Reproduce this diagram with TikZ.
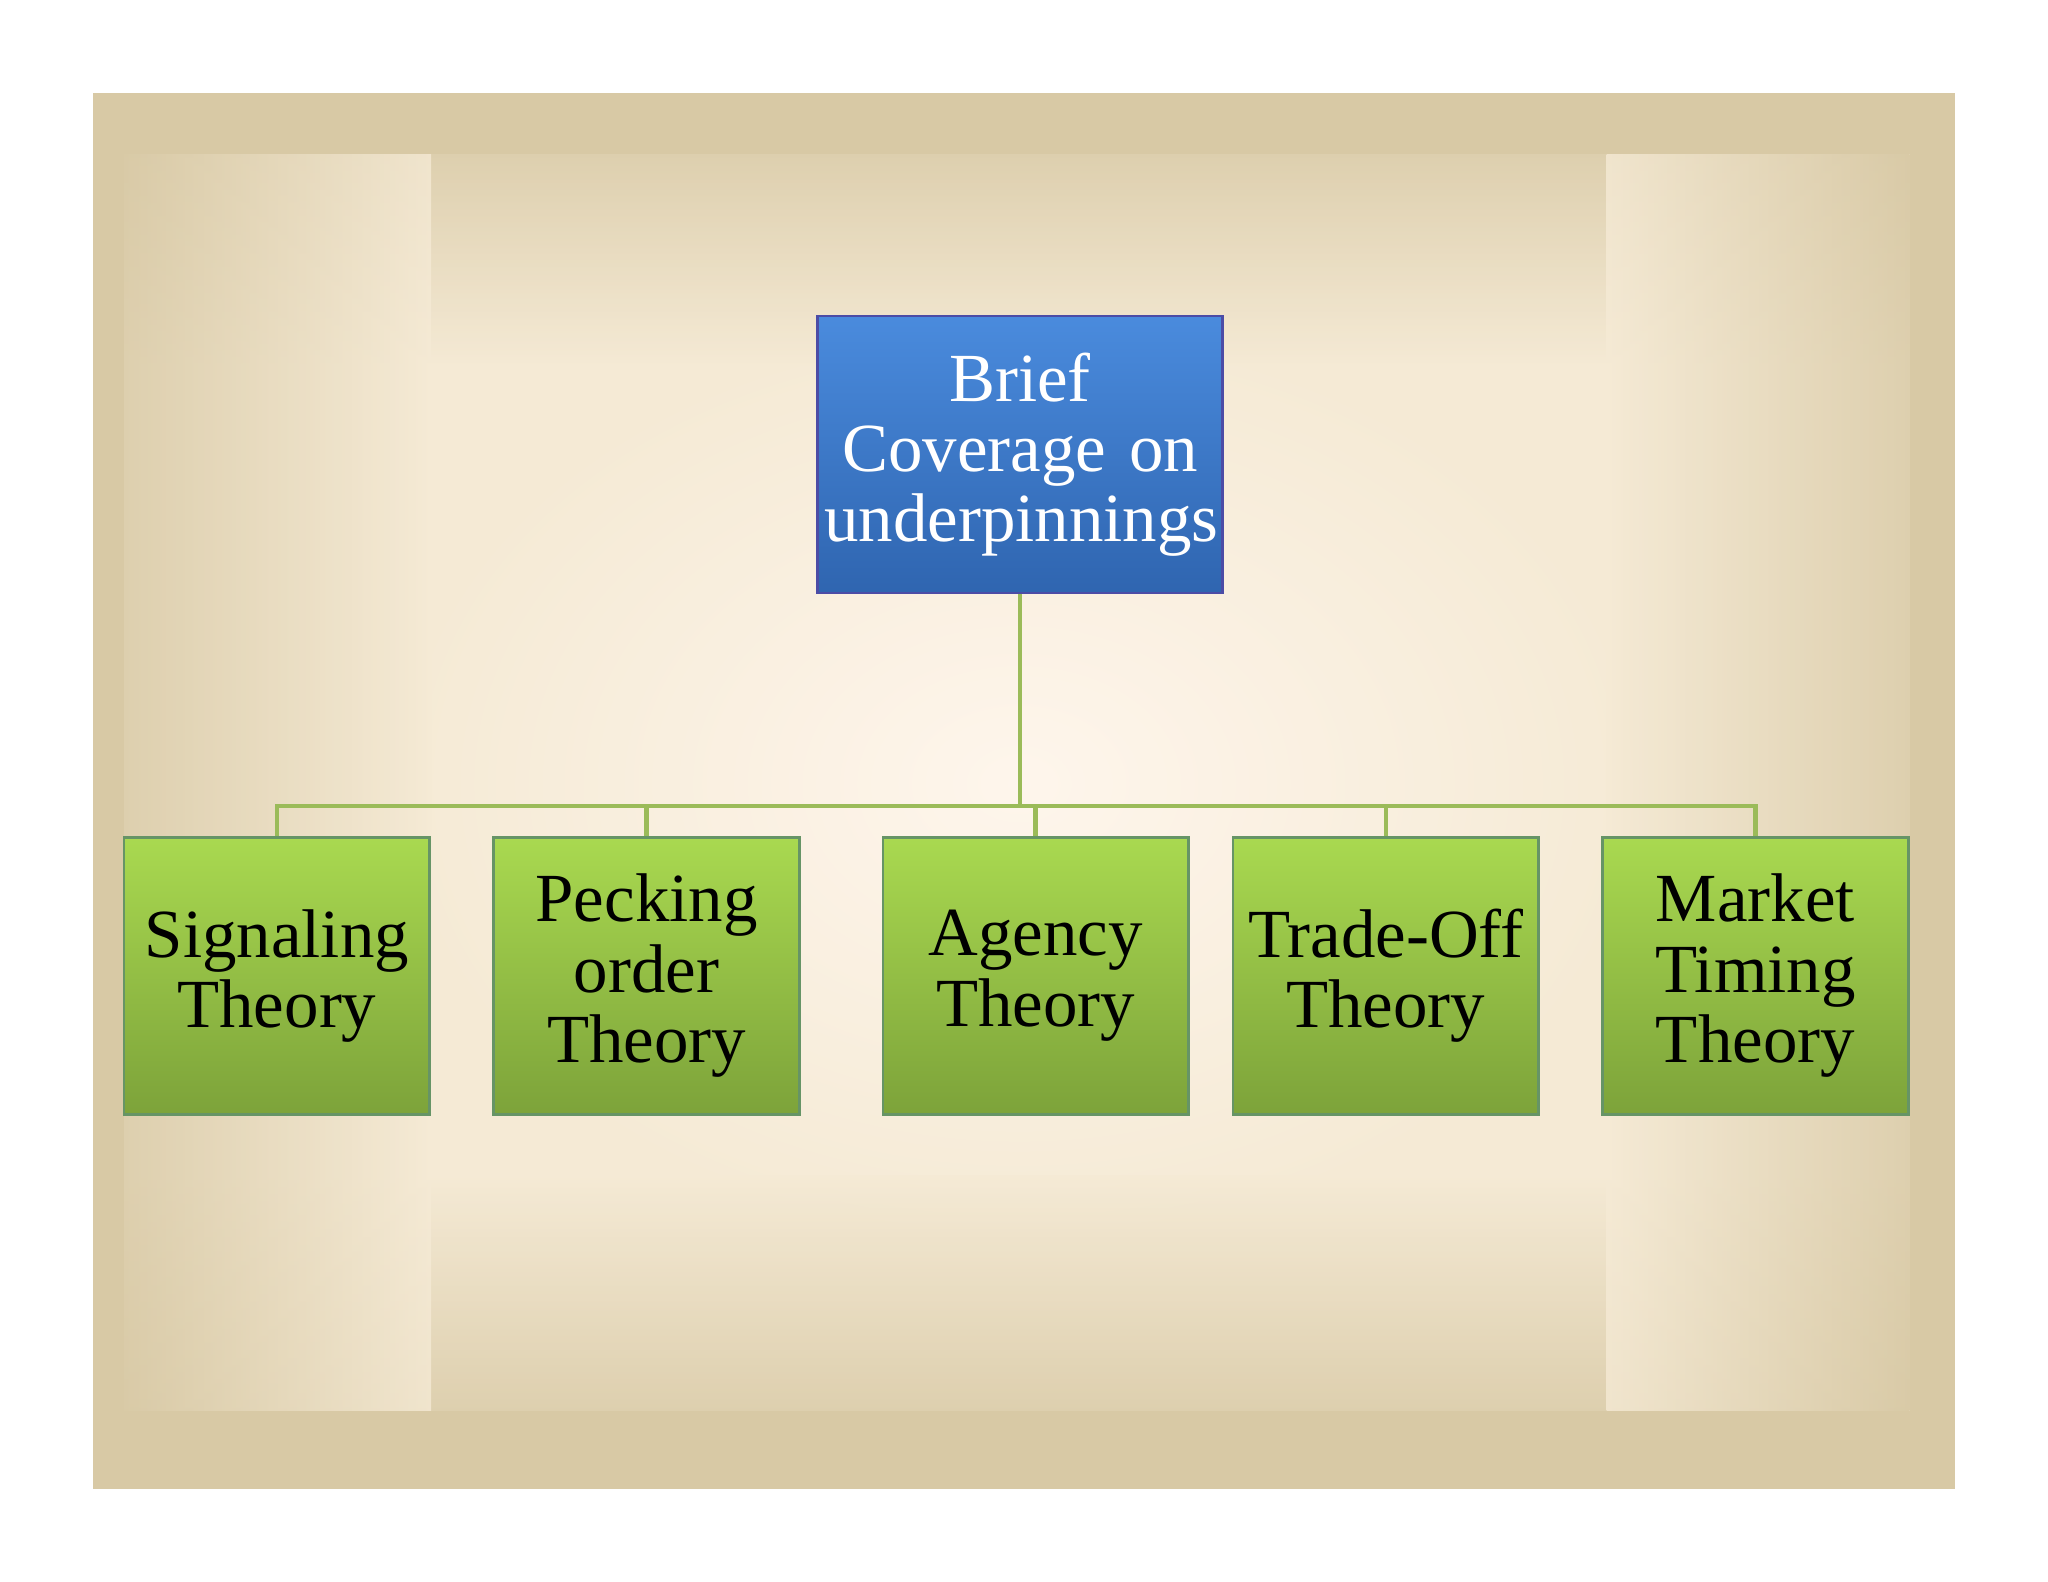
\documentclass[tikz,border=0pt]{standalone}
\usepackage{fontspec}
\setmainfont{Liberation Serif}
\begin{document}
\begin{tikzpicture}[x=0.01cm,y=-0.01cm,
  topbox/.style={draw=blue!50!black!70,line width=0.6pt,minimum width=310*0.01cm,minimum height=212*0.01cm,text width=300*0.01cm,inner sep=0pt,text=white,align=center,font=\fontsize{15}{15.3}\selectfont},
  leaf/.style={draw=green!30!black!60,line width=0.6pt,top color=leaftop,bottom color=leafbot,minimum width=234*0.01cm,minimum height=212*0.01cm,inner sep=0pt,text=black,align=center,font=\fontsize{15}{15.3}\selectfont},
  conn/.style={draw=conncol,line width=1pt}]
\definecolor{bgtan}{HTML}{D8C9A5}
\definecolor{bgcream}{HTML}{F5EAD5}
\definecolor{leaftop}{HTML}{A9D950}
\definecolor{leafbot}{HTML}{7DA33A}
\definecolor{conncol}{HTML}{9BBB59}
\definecolor{bluetop}{HTML}{4A8BDD}
\definecolor{bluebot}{HTML}{2F65B0}
\useasboundingbox (0,0) rectangle (1568,1211);
\fill[white] (0,0) rectangle (1568,1211);
\fill[bgtan] (71,71) rectangle (1497,1140);
\fill[bgcream] (95,118) rectangle (1462,1080);
\shade[inner color=bgcream!60!orange!15!white,outer color=bgcream] (300,250) rectangle (1260,950);
\shade[top color=bgtan,bottom color=bgcream,opacity=0.8] (95,118) rectangle (1462,280);
\shade[bottom color=bgtan,top color=bgcream,opacity=0.8] (95,900) rectangle (1462,1080);
\shade[left color=bgtan,right color=bgcream,opacity=0.8] (95,118) rectangle (330,1080);
\shade[right color=bgtan,left color=bgcream,opacity=0.8] (1230,118) rectangle (1462,1080);
\node[topbox,top color=bluetop,bottom color=bluebot] (top) at (781,348) {Brief\\Coverage on\\underpinnings};
\node[leaf] (a) at (212,747) {Signaling\\Theory};
\node[leaf] (b) at (495,747) {Pecking\\order\\Theory};
\node[leaf] (c) at (793,747) {Agency\\Theory};
\node[leaf] (d) at (1061,747) {Trade-Off\\Theory};
\node[leaf] (e) at (1344,747) {Market\\Timing\\Theory};
\coordinate (j) at (781,617);
\draw[conn] (top.south) -- (j);
\foreach \n in {a,b,c,d,e}{\draw[conn] (j) -| (\n.north);}
\end{tikzpicture}
\end{document}
